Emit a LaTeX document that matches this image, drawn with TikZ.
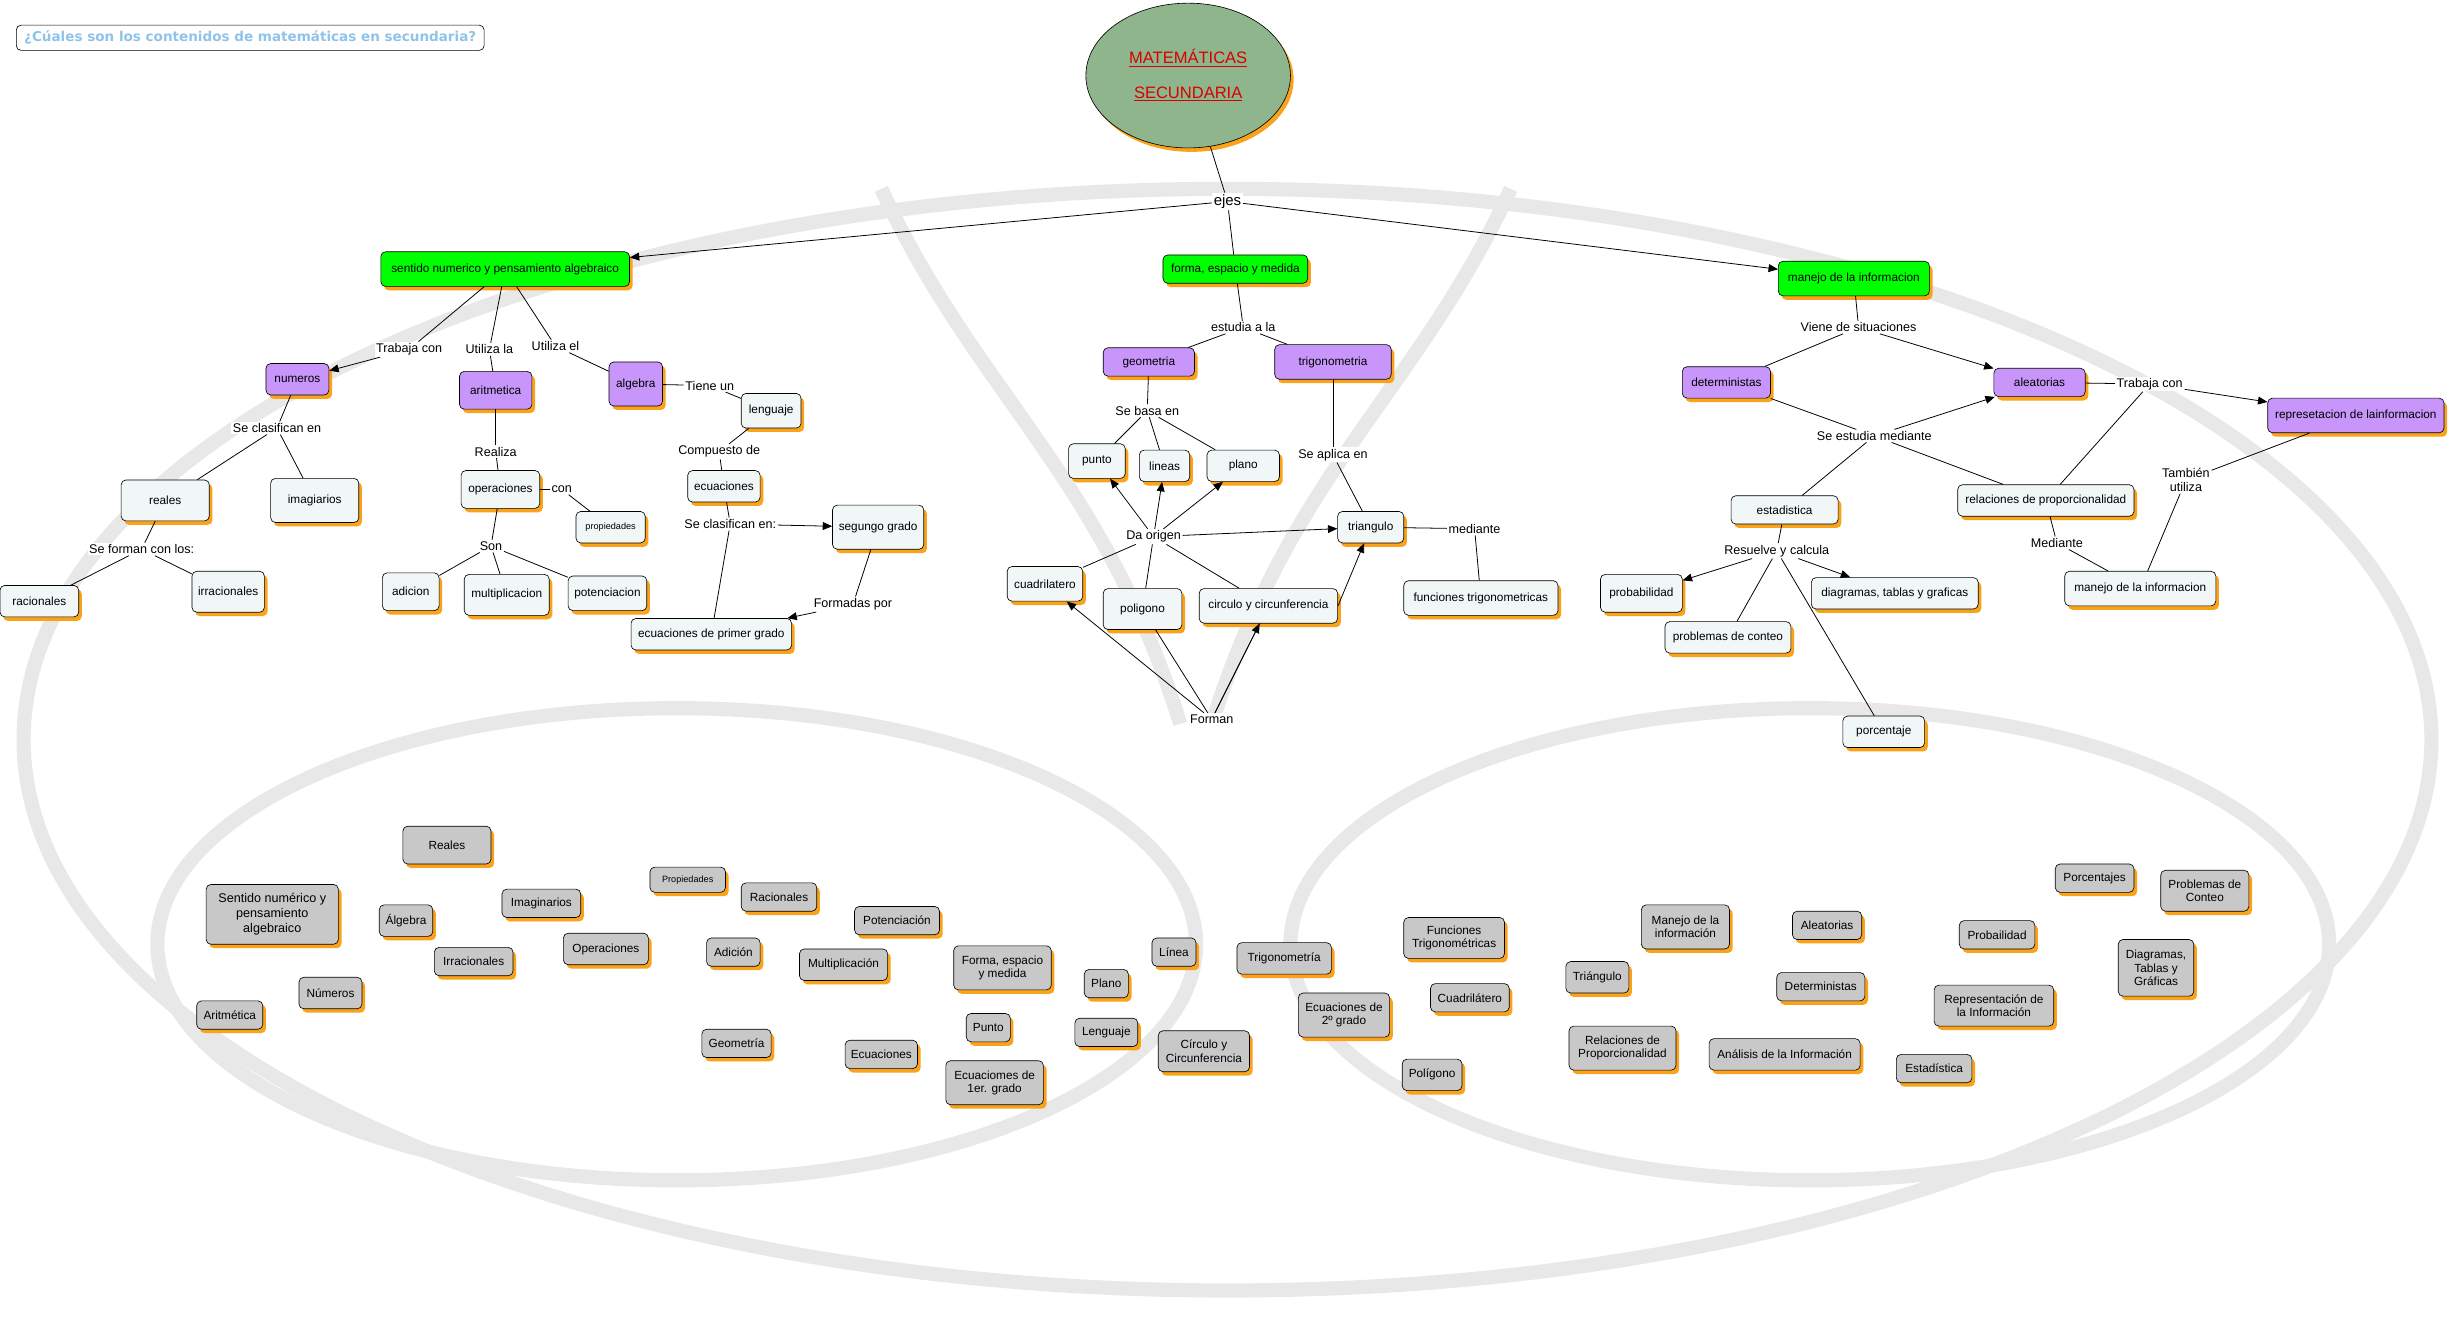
\documentclass[tikz,border=0pt]{standalone}
\usepackage{fontspec}
\setmainfont{Liberation Sans}
\newfontfamily\titlefont{DejaVu Sans}
\usetikzlibrary{shadows,arrows.meta,shapes.geometric}
\definecolor{sh}{HTML}{F9A21A}
\definecolor{grn}{HTML}{00FF00}
\definecolor{pur}{HTML}{C896FB}
\definecolor{lt}{HTML}{F1F6F6}
\definecolor{gr}{HTML}{C8C8C8}
\definecolor{ttl}{HTML}{8FC3EA}
\definecolor{circ}{HTML}{8FB58C}
\begin{document}
\begin{tikzpicture}[x=1pt,y=-1pt,
  bx/.style 2 args={draw=black, rounded corners=3pt, inner sep=1pt, align=center,
     minimum width=#1pt, minimum height=#2pt, font=\fontsize{7.5}{8.5}\selectfont,
     drop shadow={fill=sh, shadow xshift=2pt, shadow yshift=-2.5pt, opacity=1}},
  g/.style={fill=grn},
  p/.style={fill=pur},
  l/.style={fill=lt},
  q/.style={fill=gr},
  lbl/.style={fill=white, inner sep=1pt, font=\fontsize{8}{9}\selectfont},
  ln/.style={draw=black, line width=0.5pt},
  ar/.style={ln, -{Triangle[length=6pt,width=5pt]}},
  bg/.style={draw=black!9, line width=9pt}
]
\useasboundingbox (0,0) rectangle (1560,844);
\fill[white] (0,0) rectangle (1560,844);
% background pattern (approximation)
\draw[bg] (780,470) ellipse [x radius=765, y radius=350];
\draw[bg] (430,600) ellipse [x radius=330, y radius=150];
\draw[bg] (1150,600) ellipse [x radius=330, y radius=150];
\draw[bg] (560,120) .. controls (620,250) and (700,300) .. (750,460);
\draw[bg] (960,120) .. controls (900,250) and (820,300) .. (770,460);

% title
\node[draw=black, rounded corners=3pt, inner xsep=5pt, minimum height=16pt, text=ttl,
  font=\titlefont\bfseries\fontsize{8.6}{10}\selectfont] (title) at (159,24) {¿Cúales son los contenidos de matemáticas en secundaria?};

% top circle
\node[draw=black, ellipse, fill=circ, minimum width=130pt, minimum height=92pt,
  drop shadow={fill=sh, shadow xshift=2pt, shadow yshift=-2.5pt, opacity=1}, inner sep=0pt,
  font=\fontsize{10.5}{13}\selectfont, text=red!85!black, align=center] (top) at (755,48)
  {\underline{MATEMÁTICAS}\\[9pt]\underline{SECUNDARIA}};

\node[lbl, font=\fontsize{9.5}{10}\selectfont] (ejes) at (780,128) {ejes};
\node[bx={158}{22}, g] (g1) at (321,171) {sentido numerico y pensamiento algebraico};
\node[bx={92}{18}, g] (g2) at (785,171) {forma, espacio y medida};
\node[bx={96}{22}, g] (g3) at (1178,177) {manejo de la informacion};
\draw[ln] (top) -- (ejes);
\draw[ar] (ejes) -- (g1);
\draw[ln] (ejes) -- (g2);
\draw[ar] (ejes) -- (g3);

% ---------- left ----------
\node[lbl] (trab) at (260,222) {Trabaja con};
\node[lbl] (utla) at (311,222) {Utiliza la};
\node[lbl] (utel) at (353,220) {Utiliza el};
\node[bx={40}{20}, p] (numeros) at (189,241) {numeros};
\node[bx={46}{24}, p] (aritm) at (315,248) {aritmetica};
\node[bx={34}{28}, p] (algebra) at (404,244) {algebra};
\draw[ln] (g1) -- (trab); \draw[ar] (trab) -- (numeros);
\draw[ln] (g1) -- (utla); \draw[ln] (utla) -- (aritm);
\draw[ln] (g1) -- (utel); \draw[ln] (utel) -- (algebra);

\node[lbl] (secl) at (176,272) {Se clasifican en};
\node[bx={56}{26}, l] (reales) at (105,318) {reales};
\node[bx={56}{28}, l] (imag) at (200,318) {imagiarios};
\draw[ln] (numeros) -- (secl); \draw[ln] (secl) -- (reales); \draw[ln] (secl) -- (imag);
\node[lbl] (sefo) at (90,349) {Se forman con los:};
\node[bx={50}{20}, l] (racio) at (25,382) {racionales};
\node[bx={46}{26}, l] (irra) at (145,376) {irracionales};
\draw[ln] (reales) -- (sefo); \draw[ln] (sefo) -- (racio); \draw[ln] (sefo) -- (irra);

\node[lbl] (realiza) at (315,287) {Realiza};
\node[bx={50}{24}, l] (oper) at (318,311) {operaciones};
\draw[ln] (aritm) -- (realiza); \draw[ln] (realiza) -- (oper);
\node[lbl] (con) at (357,311) {con};
\node[bx={44}{20}, l, font=\fontsize{5.8}{6}\selectfont] (prop) at (388,335) {propiedades};
\draw[ln] (oper) -- (con); \draw[ln] (con) -- (prop);
\node[lbl] (son) at (312,347) {Son};
\node[bx={36}{24}, l] (adic) at (261,376) {adicion};
\node[bx={54}{26}, l] (mult) at (322,378) {multiplicacion};
\node[bx={50}{22}, l] (pot) at (386,377) {potenciacion};
\draw[ln] (oper) -- (son); \draw[ln] (son) -- (adic); \draw[ln] (son) -- (mult); \draw[ln] (son) -- (pot);

\node[lbl] (tiene) at (451,245) {Tiene un};
\node[bx={38}{22}, l] (leng) at (490,261) {lenguaje};
\draw[ln] (algebra) -- (tiene); \draw[ln] (tiene) -- (leng);
\node[lbl] (comp) at (457,287) {Compuesto de};
\node[bx={46}{20}, l] (ecu) at (460,309) {ecuaciones};
\draw[ln] (leng) -- (comp); \draw[ln] (comp) -- (ecu);
\node[lbl] (secl2) at (464,333) {Se clasifican en:};
\node[bx={58}{28}, l] (seg) at (558,335) {segungo grado};
\node[bx={102}{20}, l] (prim) at (452,403) {ecuaciones de primer grado};
\draw[ln] (ecu) -- (secl2); \draw[ar] (secl2) -- (seg); \draw[ln] (secl2) -- (prim);
\node[lbl] (form) at (542,384) {Formadas por};
\draw[ln] (seg) -- (form); \draw[ar] (form) -- (prim);

% ---------- middle ----------
\node[lbl] (estu) at (790,208) {estudia a la};
\node[bx={58}{18}, p] (geom) at (730,230) {geometria};
\node[bx={74}{22}, p] (trig) at (847,230) {trigonometria};
\draw[ln] (g2) -- (estu); \draw[ln] (estu) -- (geom); \draw[ln] (estu) -- (trig);
\node[lbl] (basa) at (729,261) {Se basa en};
\node[bx={36}{22}, l] (punto) at (697,293) {punto};
\node[bx={32}{20}, l] (lineas) at (740,296) {lineas};
\node[bx={46}{20}, l] (plano) at (790,296) {plano};
\draw[ln] (geom) -- (basa); \draw[ln] (basa) -- (punto); \draw[ln] (basa) -- (lineas); \draw[ln] (basa) -- (plano);
\node[lbl] (aplica) at (847,289) {Se aplica en};
\node[bx={42}{20}, l] (tri) at (871,335) {triangulo};
\draw[ln] (trig) -- (aplica); \draw[ln] (aplica) -- (tri);
\node[lbl] (med) at (937,336) {mediante};
\node[bx={98}{22}, l] (ftrig) at (941,380) {funciones trigonometricas};
\draw[ln] (tri) -- (med); \draw[ln] (med) -- (ftrig);
\node[lbl] (daor) at (733,341) {Da origen};
\node[bx={48}{22}, l] (cuad) at (664,371) {cuadrilatero};
\node[bx={50}{26}, l] (polig) at (726,387) {poligono};
\node[bx={88}{22}, l] (circ) at (806,385) {circulo y circunferencia};
\draw[ar] (daor) -- (punto); \draw[ar] (daor) -- (lineas); \draw[ar] (daor) -- (plano); \draw[ar] (daor) -- (tri);
\draw[ln] (daor) -- (cuad); \draw[ln] (daor) -- (polig); \draw[ln] (daor) -- (circ);
\node[lbl] (forman) at (770,457) {Forman};
\draw[ar] (forman) -- (cuad); \draw[ln] (polig) -- (forman);
\draw[ar] (forman) -- (circ); \draw[ln] (circ) -- (forman);
\draw[ar] (circ.east) -- (tri);

% ---------- right ----------
\node[lbl] (viene) at (1181,208) {Viene de situaciones};
\node[bx={56}{20}, p] (deter) at (1097,243) {deterministas};
\node[bx={58}{18}, p] (aleat) at (1296,243) {aleatorias};
\draw[ln] (g3) -- (viene); \draw[ln] (viene) -- (deter); \draw[ar] (viene) -- (aleat);
\node[lbl] (sest) at (1191,277) {Se estudia mediante};
\node[bx={68}{18}, l] (estad) at (1134,324) {estadistica};
\node[bx={112}{20}, l] (relac) at (1300,318) {relaciones de proporcionalidad};
\draw[ln] (deter) -- (sest); \draw[ar] (sest) -- (aleat); \draw[ln] (sest) -- (estad); \draw[ln] (sest) -- (relac);
\node[lbl] (trab2) at (1366,244) {Trabaja con};
\node[bx={112}{22}, p] (repr) at (1497,264) {represetacion de lainformacion};
\draw[ln] (aleat) -- (trab2); \draw[ar] (trab2) -- (repr); \draw[ln] (trab2) -- (relac);
\node[lbl, align=center] (tamb) at (1389,305) {También\\utiliza};
\node[bx={96}{22}, l] (manejo) at (1360,374) {manejo de la informacion};
\draw[ln] (repr) -- (tamb); \draw[ln] (tamb) -- (manejo);
\node[lbl] (medi) at (1307,345) {Mediante};
\draw[ln] (relac) -- (medi); \draw[ln] (medi) -- (manejo);
\node[lbl] (resu) at (1129,350) {Resuelve y calcula};
\node[bx={52}{24}, l] (proba) at (1043,377) {probabilidad};
\node[bx={106}{20}, l] (diag) at (1204,377) {diagramas, tablas y graficas};
\node[bx={80}{20}, l] (conteo) at (1098,405) {problemas de conteo};
\node[bx={52}{20}, l] (porc) at (1197,465) {porcentaje};
\draw[ln] (estad) -- (resu); \draw[ar] (resu) -- (proba); \draw[ar] (resu) -- (diag);
\draw[ln] (resu) -- (conteo); \draw[ln] (resu) -- (porc);

% ---------- bottom grey nodes ----------
\node[bx={56}{24}, q] (b1) at (284,537) {Reales};
\node[bx={84}{38}, q, font=\fontsize{8}{9.5}\selectfont] (b2) at (173,581) {Sentido numérico y\\pensamiento\\algebraico};
\node[bx={34}{20}, q] (b3) at (258,585) {Álgebra};
\node[bx={50}{18}, q] (b4) at (344,574) {Imaginarios};
\node[bx={48}{16}, q, font=\fontsize{5.8}{6}\selectfont] (b5) at (437,559) {Propiedades};
\node[bx={48}{18}, q] (b6) at (495,570) {Racionales};
\node[bx={54}{18}, q] (b7) at (570,585) {Potenciación};
\node[bx={50}{18}, q] (b8) at (301,611) {Irracionales};
\node[bx={54}{20}, q] (b9) at (385,603) {Operaciones};
\node[bx={34}{18}, q] (b10) at (466,605) {Adición};
\node[bx={56}{20}, q] (b11) at (536,613) {Multiplicación};
\node[bx={62}{28}, q] (b12) at (637,615) {Forma, espacio\\y medida};
\node[bx={28}{18}, q] (b13) at (746,605) {Línea};
\node[bx={60}{20}, q] (b14) at (816,609) {Trigonometría};
\node[bx={28}{18}, q] (b15) at (703,625) {Plano};
\node[bx={64}{26}, q] (b16) at (924,596) {Funciones\\Trigonométricas};
\node[bx={50}{18}, q] (b17) at (934,634) {Cuadrilátero};
\node[bx={58}{28}, q] (b18) at (854,645) {Ecuaciones de\\2º grado};
\node[bx={40}{20}, q] (b19) at (1015,621) {Triángulo};
\node[bx={56}{28}, q] (b20) at (1071,589) {Manejo de la\\información};
\node[bx={44}{18}, q] (b21) at (1161,588) {Aleatorias};
\node[bx={50}{18}, q] (b22) at (1331,558) {Porcentajes};
\node[bx={56}{26}, q] (b23) at (1401,566) {Problemas de\\Conteo};
\node[bx={48}{18}, q] (b24) at (1269,594) {Probailidad};
\node[bx={56}{18}, q] (b25) at (1157,627) {Deterministas};
\node[bx={48}{36}, q] (b26) at (1370,615) {Diagramas,\\Tablas y\\Gráficas};
\node[bx={76}{26}, q] (b27) at (1267,639) {Representación de\\la Información};
\node[bx={68}{28}, q] (b28) at (1031,666) {Relaciones de\\Proporcionalidad};
\node[bx={96}{20}, q] (b29) at (1134,670) {Análisis de la Información};
\node[bx={48}{18}, q] (b30) at (1229,679) {Estadística};
\node[bx={38}{20}, q] (b31) at (910,683) {Polígono};
\node[bx={44}{18}, q] (b32) at (468,663) {Geometría};
\node[bx={46}{18}, q] (b33) at (560,670) {Ecuaciones};
\node[bx={28}{18}, q] (b34) at (628,653) {Punto};
\node[bx={40}{18}, q] (b35) at (703,656) {Lenguaje};
\node[bx={58}{26}, q] (b36) at (765,668) {Círculo y\\Circunferencia};
\node[bx={62}{28}, q] (b37) at (632,688) {Ecuaciomes de\\1er. grado};
\node[bx={42}{18}, q] (b38) at (146,645) {Aritmética};
\node[bx={40}{20}, q] (b39) at (210,631) {Números};
\end{tikzpicture}
\end{document}
